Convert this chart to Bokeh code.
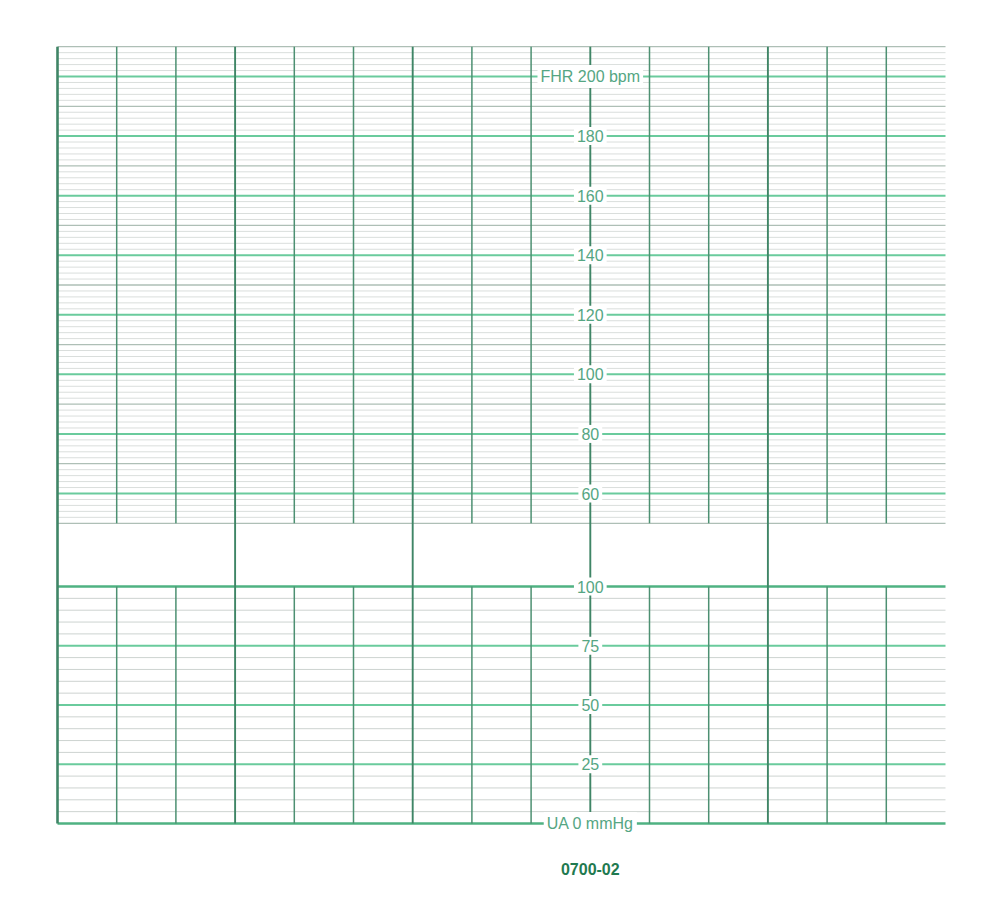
from bokeh.plotting import figure
from bokeh.models import Range1d, Label
from bokeh.embed import file_html
from bokeh.resources import INLINE
from bokeh.core.properties import value

# ---------------- data (chart structure) ----------------
t_end = 300                                   # seconds shown on strip
time_lines = [0, 20, 40, 60, 80, 100, 120, 140, 160, 180, 200, 220, 240, 260, 280]
minute_lines = [0, 60, 120, 180, 240]         # heavy lines (left border + minutes)
fhr_min, fhr_max = 50, 210
fhr_major = [60, 80, 100, 120, 140, 160, 180, 200]
fhr_mid = [50, 70, 90, 110, 130, 150, 170, 190, 210]
fhr_fine = [v for v in range(fhr_min, fhr_max + 1, 2) if v % 10 != 0]
fhr_label_vals = [200, 180, 160, 140, 120, 100, 80, 60]
fhr_label_text = ["FHR 200 bpm", "180", "160", "140", "120", "100", "80", "60"]
ua_min, ua_max = 0, 100
ua_major = [25, 50, 75]
ua_edges = [0, 100]
ua_fine = [v for v in range(ua_min, ua_max + 1, 5) if v % 25 != 0]
ua_label_vals = [100, 75, 50, 25, 0]
ua_label_text = ["100", "75", "50", "25", "UA 0 mmHg"]
label_time = 180
paper_code = "0700-02"

# ---------------- layout ----------------
W, H = 990, 892
x0_px, x1_px = 57, 945                 # canvas px of t=0 and t=t_end
kx = (x1_px - x0_px) / t_end
fhr200_px, k_fhr = 76.0, 2.9786        # canvas y of FHR 200, px per bpm
ua0_px, k_ua = 823.0, 2.37             # canvas y of UA 0, px per mmHg
code_px = 868

xr = Range1d(-x0_px / kx, t_end + (W - x1_px) / kx)
yr = Range1d(200 - (H - fhr200_px) / k_fhr, 200 + fhr200_px / k_fhr)
uar = Range1d(0 - (H - ua0_px) / k_ua, 0 + ua0_px / k_ua)

def ua_to_fhr(u):
    frac = (u - uar.start) / (uar.end - uar.start)
    return yr.start + frac * (yr.end - yr.start)

p = figure(width=W, height=H, x_range=xr, y_range=yr,
           output_backend="svg", toolbar_location=None,
           x_axis_location=None, y_axis_location=None,
           min_border=0, outline_line_color=None,
           background_fill_color="white", border_fill_color="white")
p.extra_y_ranges = {"ua": uar}
p.grid.visible = False

FINE = "#dadedc"
MID = "#aebfb6"
GREEN = "#6acb9d"
VERT = "#4d9072"
HEAVY = "#3f8566"

# fine horizontal lines
p.segment(x0=[0] * len(fhr_fine), x1=[t_end] * len(fhr_fine), y0=fhr_fine, y1=fhr_fine,
          line_color=FINE, line_width=1)
p.segment(x0=[0] * len(ua_fine), x1=[t_end] * len(ua_fine), y0=ua_fine, y1=ua_fine,
          line_color="#cdd3d0", line_width=1, y_range_name="ua")
# mid lines
p.segment(x0=[0] * len(fhr_mid), x1=[t_end] * len(fhr_mid), y0=fhr_mid, y1=fhr_mid,
          line_color=MID, line_width=1.3)
# green major lines
p.segment(x0=[0] * len(fhr_major), x1=[t_end] * len(fhr_major), y0=fhr_major, y1=fhr_major,
          line_color=GREEN, line_width=2)
p.segment(x0=[0] * len(ua_major), x1=[t_end] * len(ua_major), y0=ua_major, y1=ua_major,
          line_color=GREEN, line_width=2, y_range_name="ua")
p.segment(x0=[0] * len(ua_edges), x1=[t_end] * len(ua_edges), y0=ua_edges, y1=ua_edges,
          line_color="#4fb282", line_width=2.4, y_range_name="ua")

# vertical lines
thin_t = [t for t in time_lines if t not in minute_lines]
p.segment(x0=thin_t, x1=thin_t, y0=[fhr_min] * len(thin_t), y1=[fhr_max] * len(thin_t),
          line_color=VERT, line_width=1.5)
p.segment(x0=thin_t, x1=thin_t, y0=[ua_min] * len(thin_t), y1=[ua_max] * len(thin_t),
          line_color=VERT, line_width=1.5, y_range_name="ua")
heavy_bottom = ua_to_fhr(ua_min)
p.segment(x0=minute_lines, x1=minute_lines, y0=[fhr_max] * len(minute_lines),
          y1=[heavy_bottom] * len(minute_lines), line_color=HEAVY,
          line_width=[2.6] + [1.9] * (len(minute_lines) - 1))

# labels
font = value("Liberation Sans")
p.text(x=[label_time] * len(fhr_label_vals), y=fhr_label_vals, text=fhr_label_text,
       text_align="center", text_baseline="middle", text_font=font,
       text_font_size=value("16px"), text_color="#55a683",
       background_fill_color="white", padding=3)
p.text(x=[label_time] * len(ua_label_vals), y=ua_label_vals, text=ua_label_text,
       text_align="center", text_baseline="middle", text_font=font,
       text_font_size=value("16px"), text_color="#55a683",
       background_fill_color="white", padding=3, y_range_name="ua")

p.add_layout(Label(x=label_time, y=H - code_px, y_units="screen", text=paper_code,
                   text_align="center", text_baseline="middle",
                   text_font="Liberation Sans", text_font_style="bold",
                   text_font_size="16px", text_color="#1f7a50"))

open("out.html", "w").write(file_html(p, INLINE))
